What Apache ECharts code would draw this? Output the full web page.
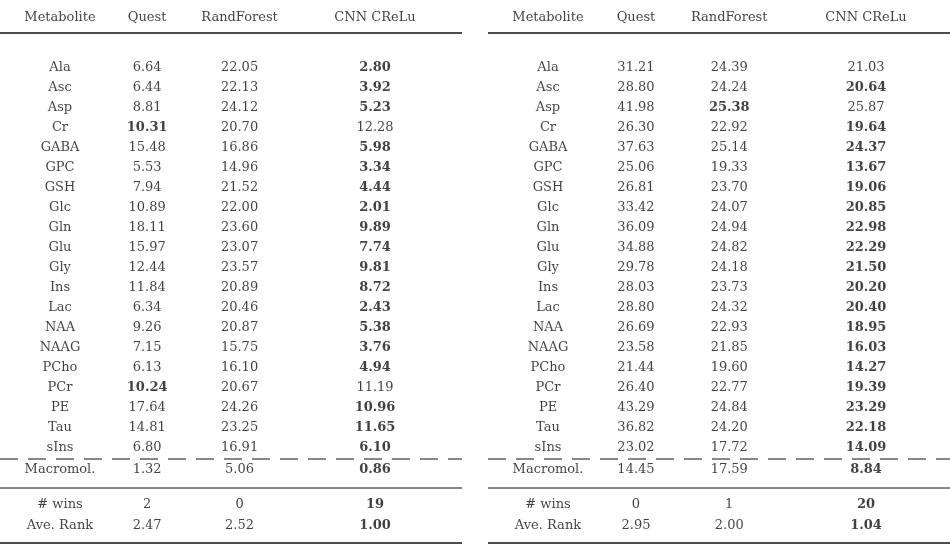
<!DOCTYPE html>
<html>
<head>
<meta charset="utf-8">
<script src="https://cdn.jsdelivr.net/npm/echarts@6/dist/echarts.min.js"></script>
<style>html,body{margin:0;padding:0;background:#fff}#main{width:950px;height:551px}</style>
</head>
<body>
<div id="main"></div>
<script>
let headers = ['Metabolite', 'Quest', 'RandForest', 'CNN CReLu'];
let metabolites = ['Ala', 'Asc', 'Asp', 'Cr', 'GABA', 'GPC', 'GSH', 'Glc', 'Gln', 'Glu', 'Gly', 'Ins', 'Lac', 'NAA', 'NAAG', 'PCho', 'PCr', 'PE', 'Tau', 'sIns', 'Macromol.'];

let leftQuest = ['6.64', '6.44', '8.81', '10.31', '15.48', '5.53', '7.94', '10.89', '18.11', '15.97', '12.44', '11.84', '6.34', '9.26', '7.15', '6.13', '10.24', '17.64', '14.81', '6.80', '1.32'];
let leftRF = ['22.05', '22.13', '24.12', '20.70', '16.86', '14.96', '21.52', '22.00', '23.60', '23.07', '23.57', '20.89', '20.46', '20.87', '15.75', '16.10', '20.67', '24.26', '23.25', '16.91', '5.06'];
let leftCNN = ['2.80', '3.92', '5.23', '12.28', '5.98', '3.34', '4.44', '2.01', '9.89', '7.74', '9.81', '8.72', '2.43', '5.38', '3.76', '4.94', '11.19', '10.96', '11.65', '6.10', '0.86'];
let leftBold = ['C', 'C', 'C', 'Q', 'C', 'C', 'C', 'C', 'C', 'C', 'C', 'C', 'C', 'C', 'C', 'C', 'Q', 'C', 'C', 'C', 'C'];
let leftWins = ['2', '0', '19'];
let leftRank = ['2.47', '2.52', '1.00'];

let rightQuest = ['31.21', '28.80', '41.98', '26.30', '37.63', '25.06', '26.81', '33.42', '36.09', '34.88', '29.78', '28.03', '28.80', '26.69', '23.58', '21.44', '26.40', '43.29', '36.82', '23.02', '14.45'];
let rightRF = ['24.39', '24.24', '25.38', '22.92', '25.14', '19.33', '23.70', '24.07', '24.94', '24.82', '24.18', '23.73', '24.32', '22.93', '21.85', '19.60', '22.77', '24.84', '24.20', '17.72', '17.59'];
let rightCNN = ['21.03', '20.64', '25.87', '19.64', '24.37', '13.67', '19.06', '20.85', '22.98', '22.29', '21.50', '20.20', '20.40', '18.95', '16.03', '14.27', '19.39', '23.29', '22.18', '14.09', '8.84'];
let rightBold = ['-', 'C', 'R', 'C', 'C', 'C', 'C', 'C', 'C', 'C', 'C', 'C', 'C', 'C', 'C', 'C', 'C', 'C', 'C', 'C', 'C'];
let rightWins = ['0', '1', '20'];
let rightRank = ['2.95', '2.00', '1.04'];

// layout: column positions (x axis units) and row positions (y axis units)
let colPos = [0, 0.83, 1.71, 3];
let rowPos = metabolites.map((m, i) => i < 20 ? i : 20.1);
let headerRow = -2.5, winsRow = 21.85, rankRow = 22.9;

function buildData(quest, rf, cnn, bold, wins, rank) {
	let data = [];
	let push = (c, r, text, b) => data.push({ value: [colPos[c], r], name: text, bold: b });
	headers.forEach((h, c) => push(c, headerRow, h, false));
	metabolites.forEach((m, i) => {
		push(0, rowPos[i], m, false);
		push(1, rowPos[i], quest[i], bold[i] === 'Q');
		push(2, rowPos[i], rf[i], bold[i] === 'R');
		push(3, rowPos[i], cnn[i], bold[i] === 'C');
	});
	push(0, winsRow, '# wins', false);
	push(0, rankRow, 'Ave. Rank', false);
	for (let c = 0; c < 3; c++) {
		push(c + 1, winsRow, wins[c], c === 2);
		push(c + 1, rankRow, rank[c], c === 2);
	}
	return data.map(d => ({
		value: d.value,
		label: { formatter: d.bold ? '{b|' + d.name + '}' : d.name }
	}));
}

let font = 'DejaVu Serif';
let labelStyle = {
	show: true, position: 'inside', color: '#111', fontFamily: font, fontSize: 13,
	rich: { b: { fontFamily: font, fontSize: 13, fontWeight: 'bold', color: '#111' } }
};

function hLine(x1, x2, y, w, dash) {
	return { type: 'line', shape: { x1: x1, y1: y, x2: x2, y2: y }, style: { stroke: '#111', lineWidth: w, lineDash: dash || null } };
}

let myChart = echarts.init(document.getElementById('main'), null, { renderer: 'canvas' });
let grids = [{ left: 60, width: 315 }, { left: 548, width: 318 }];
let option = {
	animation: false,
	grid: grids.map(g => ({ left: g.left, width: g.width, top: 18, height: 508 })),
	xAxis: [0, 1].map(i => ({ type: 'value', gridIndex: i, min: 0, max: 3, show: false })),
	yAxis: [0, 1].map(i => ({ type: 'value', gridIndex: i, min: headerRow, max: rankRow, inverse: true, show: false })),
	series: [0, 1].map(i => ({
		type: 'scatter', xAxisIndex: i, yAxisIndex: i, symbolSize: 1,
		itemStyle: { color: 'rgba(0,0,0,0)' }, label: labelStyle, silent: true,
		data: i === 0
			? buildData(leftQuest, leftRF, leftCNN, leftBold, leftWins, leftRank)
			: buildData(rightQuest, rightRF, rightCNN, rightBold, rightWins, rightRank)
	})),
	graphic: [
		hLine(0, 462, 33, 1.5), hLine(0, 462, 459, 1.2, [18, 10]), hLine(0, 462, 488, 1), hLine(0, 462, 543, 1.5),
		hLine(488, 950, 33, 1.5), hLine(488, 950, 459, 1.2, [18, 10]), hLine(488, 950, 488, 1), hLine(488, 950, 543, 1.5)
	]
};
myChart.setOption(option);
</script>
</body>
</html>
